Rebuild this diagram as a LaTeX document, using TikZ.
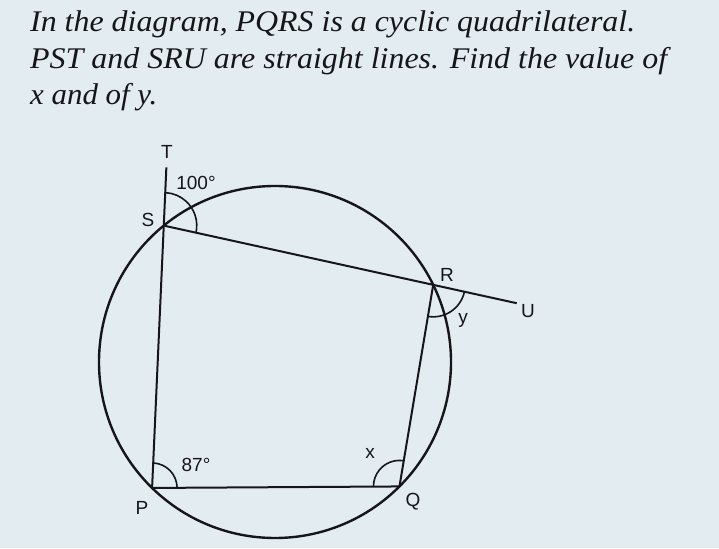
\documentclass[tikz,border=0pt]{standalone}
\usepackage{fontspec}
\setmainfont{Liberation Serif}
\setsansfont{Liberation Sans}
\usetikzlibrary{calc,angles}
\definecolor{bgcol}{RGB}{226,236,241}
\definecolor{ink}{RGB}{22,22,26}
\begin{document}
\begin{tikzpicture}[x=1pt,y=1pt,
  titletext/.style={anchor=base west,inner sep=0pt,font=\fontsize{30}{33}\selectfont\itshape,text=ink},
  lbl/.style={inner sep=0pt,font=\sffamily\fontsize{19}{21}\selectfont,text=ink},
  seg/.style={draw=ink,line width=2pt},
  ang/.style={draw=ink,line width=1.6pt}]
\fill[bgcol] (0,0) rectangle (719,548);
\useasboundingbox (0,0) rectangle (719,548);
% title
\node[titletext] (l1) at (30,516) {\resizebox{605pt}{\height}{In the diagram, PQRS is a cyclic quadrilateral.}};
\node[titletext] (l2) at (30,479) {\resizebox{637pt}{\height}{PST and SRU are straight lines. Find the value of}};
\node[titletext] (l3) at (30,443) {\resizebox{127pt}{\height}{x and of y.}};
% geometry
\coordinate (O) at (275,186);
\draw[ink,line width=2.4pt] (O) circle (176);
\coordinate (P) at ($(O)+(225.7:176)$);
\coordinate (Q) at ($(O)+(315:176)$);
\coordinate (S) at ($(O)+(129.2:176)$);
\coordinate (R) at ($(O)+(26:176)$);
\coordinate (T) at ($(P)!1.222!(S)$);
\coordinate (U) at ($(S)!1.31!(R)$);
\draw[seg] (P) -- (T);
\draw[seg] (S) -- (U);
\draw[seg] (P) -- (Q);
\draw[seg] (Q) -- (R);
% angle arcs
\path pic[ang,angle radius=33pt] {angle=R--S--T};
\path pic[ang,angle radius=32pt] {angle=Q--R--U};
\path pic[ang,angle radius=25pt] {angle=Q--P--S};
\path pic[ang,angle radius=26pt] {angle=R--Q--P};
% labels
\node[lbl] (tT) at (167,396) {T};
\node[lbl] (t100) at (196,365) {100°};
\node[lbl] (tS) at (148,328) {S};
\node[lbl] (tR) at (447,273) {R};
\node[lbl] (tU) at (528,237) {U};
\node[lbl] (ty) at (463,228) {y};
\node[lbl] (tx) at (370,95) {x};
\node[lbl] (t87) at (196,83) {87°};
\node[lbl] (tP) at (142,40) {P};
\node[lbl] (tQ) at (413,46) {Q};
\end{tikzpicture}
\end{document}
